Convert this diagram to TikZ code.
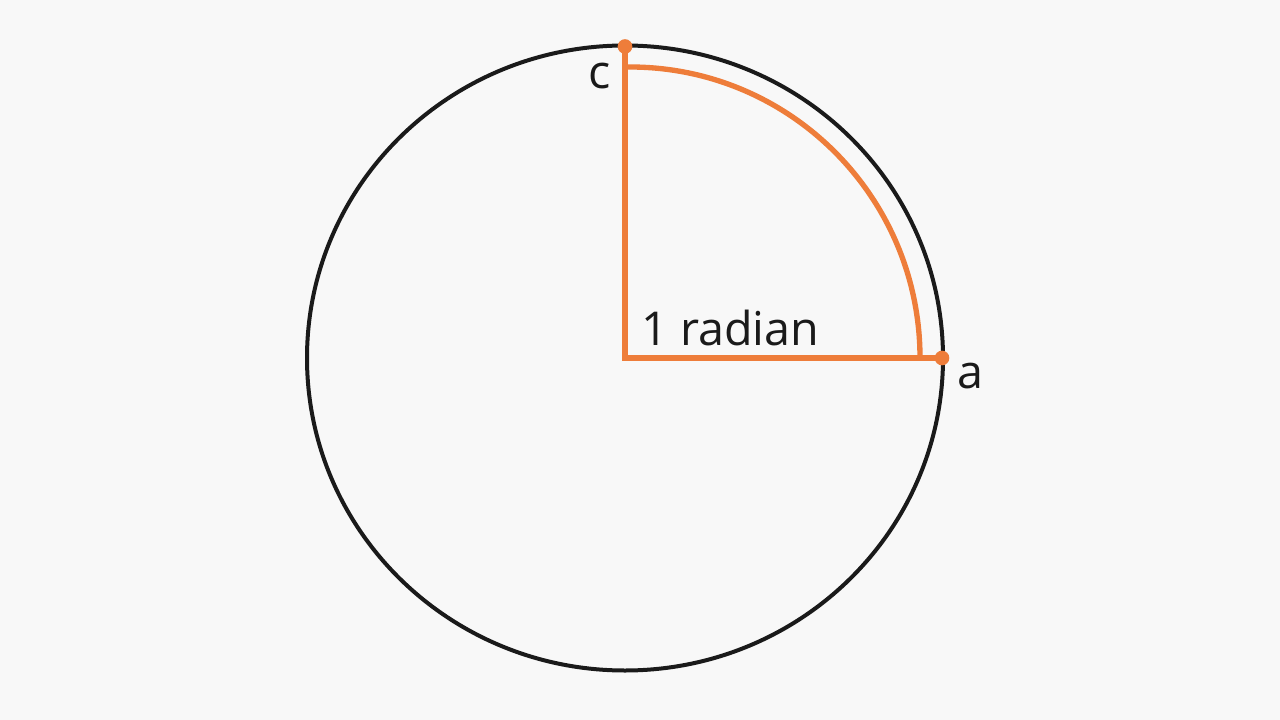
\documentclass[tikz,border=0pt]{standalone}
\usepackage{fontspec}
\setmainfont{Open Sans}
\definecolor{bg}{HTML}{F8F8F8}
\definecolor{ora}{HTML}{EE7D3A}
\definecolor{ink}{HTML}{1A1A1A}
\begin{document}
\begin{tikzpicture}[x=0.75pt,y=-0.75pt,
  circ/.style={draw=ink,line width=3pt},
  oline/.style={draw=ora,line width=4pt},
  dotnode/.style={circle,fill=ora,inner sep=0pt,minimum size=11pt},
  lbl/.style={text=ink,font=\fontsize{35}{38}\selectfont,inner sep=0pt}]
\fill[bg] (0,0) rectangle (1280,720);
\useasboundingbox (0,0) rectangle (1280,720);
\coordinate (O) at (625,358);
\draw[circ] (O) ellipse [x radius=318, y radius=312.5];
\node[dotnode] (C) at (625,46.5) {};
\node[dotnode] (A) at (942,358) {};
\coordinate (S) at (625,67);
\draw[oline,line join=miter] (C.center) -- (O) -- (A.center);
\draw[oline] (S) -- ++(5,0) arc [start angle=-90, end angle=0, x radius=290, y radius=291];
\node[lbl] (lc) at (600,76) {c};
\node[lbl] (la) at (970,376) {a};
\node[lbl,anchor=base west] (lr) at (641,345) {1 radian};
\end{tikzpicture}
\end{document}
